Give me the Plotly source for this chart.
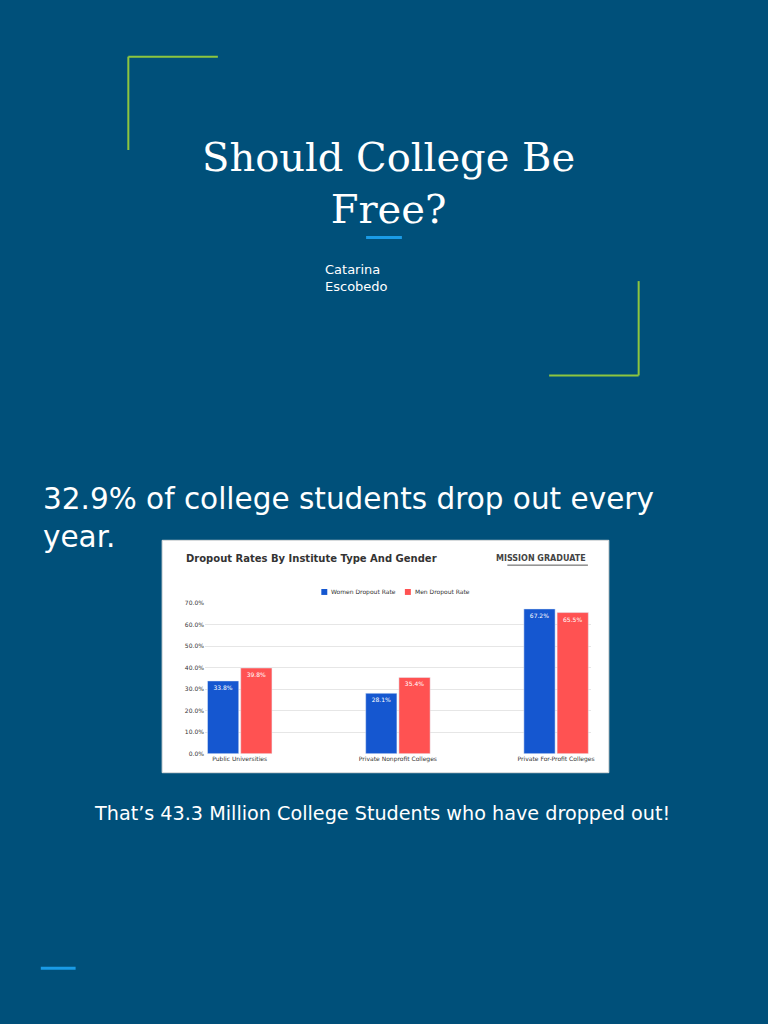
import plotly.graph_objects as go

categories = ["Public Universities", "Private Nonprofit Colleges", "Private For-Profit Colleges"]
women = [33.8, 28.1, 67.2]
men = [39.8, 35.4, 65.5]
ytick_vals = [0, 10, 20, 30, 40, 50, 60, 70]
ytick_text = ["0.0%", "10.0%", "20.0%", "30.0%", "40.0%", "50.0%", "60.0%", "70.0%"]

W, H = 768, 1024
def px(x): return x / W
def py(y): return 1 - y / H

BG = "#00507a"
GREEN = "#8dc63f"
xs = list(range(len(categories)))

fig = go.Figure()
fig.add_bar(x=xs, y=women, name="Women Dropout Rate", marker_color="#1557d0",
            text=[f"{v:.1f}%" for v in women], textposition="inside", insidetextanchor="end",
            textfont=dict(color="white", size=6, family="DejaVu Sans"))
fig.add_bar(x=xs, y=men, name="Men Dropout Rate", marker_color="#ff5252",
            text=[f"{v:.1f}%" for v in men], textposition="inside", insidetextanchor="end",
            textfont=dict(color="white", size=6, family="DejaVu Sans"))

def line(x0, y0, x1, y1, color, w):
    return dict(type="line", xref="paper", yref="paper", x0=px(x0), x1=px(x1), y0=py(y0), y1=py(y1),
                line=dict(color=color, width=w))

shapes = [
    dict(type="rect", xref="paper", yref="paper", x0=px(163), x1=px(612), y0=py(774), y1=py(540),
         fillcolor="white", line=dict(color="#dddddd", width=1), layer="below"),
    line(129, 53, 219, 53, GREEN, 2),
    line(129, 53, 129, 147, GREEN, 2),
    line(642, 279, 642, 374, GREEN, 2),
    line(552, 374, 642, 374, GREEN, 2),
    line(368, 235, 404, 235, "#1a9be6", 3),
    line(41, 971, 76, 971, "#1a9be6", 3),
    dict(type="rect", xref="paper", yref="paper", x0=px(323), x1=px(329), y0=py(595), y1=py(589), fillcolor="#1557d0", line_width=0),
    dict(type="rect", xref="paper", yref="paper", x0=px(407), x1=px(413), y0=py(595), y1=py(589), fillcolor="#ff5252", line_width=0),
    line(510, 565, 591, 565, "#555", 1),
]

def text(x, y, t, size, color="white", family="DejaVu Sans", xanchor="left", align="left"):
    return dict(x=px(x), y=py(y), xref="paper", yref="paper", text=t, showarrow=False,
                xanchor=xanchor, yanchor="middle", align=align,
                font=dict(family=family, size=size, color=color))

ann = [
    text(391, 180, "Should College Be<br>Free?", 40, family="DejaVu Serif", xanchor="center", align="center"),
    text(325, 276, "Catarina<br>Escobedo", 13),
    text(41, 518, "32.9% of college students drop out every<br>year.", 29.5),
    text(384, 815, "That’s 43.3 Million College Students who have dropped out!", 19.2, xanchor="center"),
    text(185, 558, "<b>Dropout Rates By Institute Type And Gender</b>", 10, color="#333"),
    text(591, 558, "<b>MISSION GRADUATE</b>", 8, color="#444", xanchor="right"),
    text(331, 592, "Women Dropout Rate", 6, color="#333"),
    text(415, 592, "Men Dropout Rate", 6, color="#333"),
]

fig.update_layout(
    width=W, height=H, margin=dict(l=0, r=0, t=0, b=0),
    paper_bgcolor=BG, plot_bgcolor="white", showlegend=False,
    barmode="group", bargap=0.58, bargroupgap=0.06,
    xaxis=dict(domain=[px(206), px(594)], range=[-0.22, 2.22], tickvals=xs, ticktext=categories,
               tickfont=dict(size=6, color="#333", family="DejaVu Sans"), showgrid=False, zeroline=False, ticklen=0),
    yaxis=dict(domain=[py(755), py(603)], range=[0, 70], tickvals=ytick_vals, ticktext=ytick_text,
               tickfont=dict(size=6, color="#333", family="DejaVu Sans"), gridcolor="#e6e6e6", zeroline=False, ticklen=0),
    shapes=shapes, annotations=ann,
)
fig.write_html("out.html", config={"displayModeBar": False},
               post_script="document.body.style.margin='0';document.body.style.overflow='hidden';document.body.style.background='#00507a';")
